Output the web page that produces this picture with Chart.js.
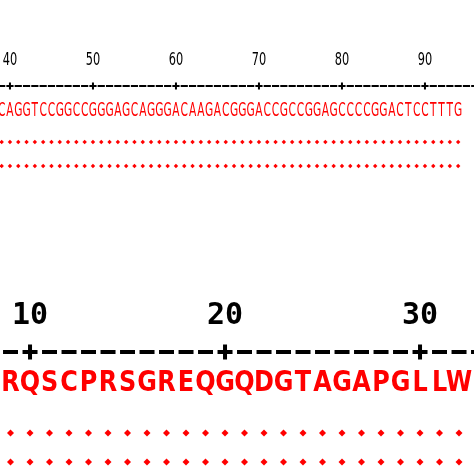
<!DOCTYPE html>
<html>
<head>
<script src="https://cdn.jsdelivr.net/npm/chart.js@4"></script>
<style>body{margin:0;background:#fff}</style>
</head>
<body>
<canvas id="seq" width="474" height="474"></canvas>
<script>
// top track: nucleotides starting at position 39
const dnaStart = 39;
const dnaSeq = "CAGGTCCGGCCGGGAGCAGGGACAAGACGGGACCGCCGGAGCCCCGGACTCCTTTG";
const dnaTicks = [40, 50, 60, 70, 80, 90];
// bottom track: residues starting at position 9
const protStart = 9;
const protSeq = "RQSCPRSGREQGQDGTAGAPGLLW";
const protTicks = [10, 20, 30];

// row heights (y in page px, reversed axis)
const rows = { dnaLabel: 60, dnaAxis: 86, dnaSeq: 111, dnaDot1: 142, dnaDot2: 166,
  protLabel: 316, protAxis: 352, protSeq: 384, protDot1: 433, protDot2: 462 };

const dnaPos = dnaSeq.split('').map((c, i) => dnaStart + i);
const protPos = protSeq.split('').map((c, i) => protStart + i);
const axisPos = (from, to) => { const a = []; for (let p = from; p <= to; p++) a.push(p); return a; };
const dnaAxisPos = axisPos(38, 97);
const protAxisPos = axisPos(8, 33);

const pts = (xs, y) => xs.map(x => ({ x: x, y: y }));

const textPlugin = {
  id: 'textPlugin',
  afterDatasetsDraw(chart) {
    const ctx = chart.ctx;
    chart.data.datasets.forEach((ds, i) => {
      if (!ds.texts) return;
      const meta = chart.getDatasetMeta(i);
      ctx.save();
      ctx.fillStyle = ds.textColor;
      ctx.font = ds.textFont;
      ctx.textAlign = 'center';
      ctx.textBaseline = 'middle';
      meta.data.forEach((el, j) => {
        ctx.save();
        ctx.translate(el.x, el.y);
        ctx.scale(ds.textScaleX || 1, 1);
        ctx.fillText(ds.texts[j], 0, 0);
        ctx.restore();
      });
      ctx.restore();
    });
  }
};

new Chart(document.getElementById('seq'), {
  type: 'scatter',
  plugins: [textPlugin],
  data: {
    datasets: [
      { xAxisID: 'xt', data: pts(dnaTicks, rows.dnaLabel), pointRadius: 0, texts: dnaTicks.map(String),
        textColor: '#000', textFont: '18px "DejaVu Sans Condensed"', textScaleX: 0.7 },
      { xAxisID: 'xt', data: pts(dnaAxisPos, rows.dnaAxis), borderColor: '#000', borderWidth: 2,
        pointStyle: dnaAxisPos.map(p => p % 10 === 0 ? 'cross' : 'line'), pointRadius: 3.6 },
      { xAxisID: 'xt', data: pts(dnaPos, rows.dnaSeq), pointRadius: 0, texts: dnaSeq.split(''),
        textColor: '#f00', textFont: '19px "DejaVu Sans Condensed"', textScaleX: 0.62 },
      { xAxisID: 'xt', data: pts(dnaPos, rows.dnaDot1), pointStyle: 'rectRot', pointRadius: 2.2,
        backgroundColor: '#f00', borderColor: '#f00', borderWidth: 0 },
      { xAxisID: 'xt', data: pts(dnaPos, rows.dnaDot2), pointStyle: 'rectRot', pointRadius: 2.2,
        backgroundColor: '#f00', borderColor: '#f00', borderWidth: 0 },
      { xAxisID: 'xb', data: pts(protTicks, rows.protLabel), pointRadius: 0, texts: protTicks.map(String),
        textColor: '#000', textFont: 'bold 30px "DejaVu Sans Mono"', textScaleX: 1 },
      { xAxisID: 'xb', data: pts(protAxisPos, rows.protAxis), borderColor: '#000', borderWidth: 4,
        pointStyle: protAxisPos.map(p => p % 10 === 0 ? 'cross' : 'line'), pointRadius: 7.5 },
      { xAxisID: 'xb', data: pts(protPos, rows.protSeq), pointRadius: 0, texts: protSeq.split(''),
        textColor: '#f00', textFont: 'bold 28px "DejaVu Sans Condensed"', textScaleX: 0.95 },
      { xAxisID: 'xb', data: pts(protPos, rows.protDot1), pointStyle: 'rectRot', pointRadius: 3.5,
        backgroundColor: '#f00', borderColor: '#f00', borderWidth: 0 },
      { xAxisID: 'xb', data: pts(protPos, rows.protDot2), pointStyle: 'rectRot', pointRadius: 3.5,
        backgroundColor: '#f00', borderColor: '#f00', borderWidth: 0 }
    ]
  },
  options: {
    responsive: false,
    animation: false,
    clip: false,
    layout: { padding: 0, autoPadding: false },
    plugins: { legend: { display: false }, tooltip: { enabled: false } },
    scales: {
      xt: { type: 'linear', display: false, min: 38.8, max: 38.8 + 474 / 8.3 },
      xb: { type: 'linear', display: false, min: 8.46, max: 8.46 + 474 / 19.5 },
      y: { type: 'linear', display: false, min: 0, max: 474, reverse: true }
    }
  }
});
</script>
</body>
</html>
